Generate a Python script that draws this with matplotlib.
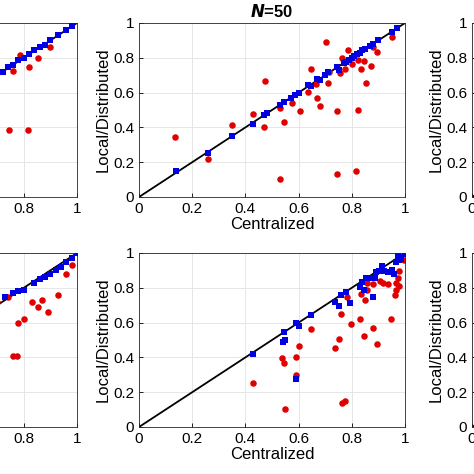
import numpy as np
import matplotlib
matplotlib.use("Agg")
import matplotlib.pyplot as plt

plt.rcParams['font.family'] = ['Liberation Sans', 'DejaVu Sans']

# top row, N=50
top_red_x = [.136, .258, .35, .43, .469, .475, .53, .53, .545, .575, .605, .634, .647, .664, .671, .68,
             .702, .712, .714, .745, .745, .755, .765, .774, .786, .799, .814, .825, .825, .836, .854,
             .844, .873, .896, .879, .95]
top_red_y = [.347, .219, .416, .475, .40, .666, .513, .105, .431, .538, .494, .605, .733, .649, .567, .521,
             .891, .653, .719, .496, .132, .71, .796, .733, .844, .767, .147, .5, .79, .735, .656,
             .779, .754, .836, .863, .92]
top_blue_x = [.14, .26, .35, .43, .47, .48, .53, .545, .57, .585, .60, .635, .645, .67, .68, .70, .71,
              .745, .75, .77, .78, .79, .80, .81, .82, .83, .84, .85, .87, .88, .90, .95, .97]
top_blue_y = [.15, .25, .35, .42, .47, .48, .53, .545, .57, .585, .60, .645, .64, .68, .67, .70, .72,
              .745, .73, .77, .775, .79, .80, .81, .82, .83, .845, .85, .87, .88, .90, .95, .97]

# bottom row
bot_red_x = [.43, .538, .544, .549, .589, .592, .60, .648, .735, .753, .761, .762, .775, .781, .796,
             .829, .834, .847, .85, .857, .857, .881, .893, .881, .906, .916, .935, .946, .961, .966,
             .967, .972, .979, .976, .997]
bot_red_y = [.254, .399, .368, .103, .296, .405, .464, .561, .452, .508, .651, .137, .147, .748, .59,
             .618, .763, .523, .729, .828, .786, .569, .479, .824, .84, .83, .82, .622, .761, .786,
             .826, .859, .813, .895, .958]
bot_blue_x = [.43, .541, .547, .545, .589, .592, .60, .648, .735, .753, .761, .777, .795, .829, .838,
              .847, .855, .867, .881, .888, .891, .903, .912, .922, .935, .95, .96, .966, .972, .979,
              .985, 1.0]
bot_blue_y = [.42, .487, .50, .548, .273, .599, .58, .645, .718, .697, .758, .777, .71, .805, .836,
              .786, .859, .859, .748, .857, .893, .897, .924, .897, .893, .905, .882, .947, .981, .958,
              .966, .992]

# left column, only the right edge is visible
lt_red_x = [.745, .814, .82, .76, .785, .853, .90]
lt_red_y = [.385, .385, .747, .724, .816, .80, .86]
lt_blue_x = [.70, .72, .74, .76, .78, .80, .82, .84, .86, .88, .90, .93, .96, .98]
lt_blue_y = [.70, .72, .745, .76, .785, .80, .82, .845, .86, .875, .90, .93, .96, .985]
lb_red_x = [.70, .74, .76, .775, .78, .80, .83, .853, .87, .89, .93, .96, .98]
lb_red_y = [.72, .75, .41, .41, .60, .62, .72, .69, .73, .66, .76, .88, .93]
lb_blue_x = [.70, .73, .76, .78, .80, .84, .86, .88, .90, .92, .94, .96, .98, 1.0]
lb_blue_y = [.72, .75, .77, .78, .79, .83, .85, .86, .88, .90, .92, .95, .97, 1.0]

W = 474.0
fig = plt.figure(figsize=(4.74, 4.74), dpi=100)


def panel(left_px, top_px, rx, ry, bx, by, title=None, xlabel=True):
    ax = fig.add_axes([left_px / W, 1 - (top_px + 174) / W, 266 / W, 174 / W])
    ax.plot([0, 1], [0, 1], color='black', lw=1.3, zorder=1)
    ax.scatter(rx, ry, s=22, color='#e00000', marker='o', zorder=2, linewidths=0)
    ax.scatter(bx, by, s=16, color='#0000e0', marker='s', zorder=3, linewidths=0)
    ax.set_xlim(0, 1)
    ax.set_ylim(0, 1)
    ax.set_xticks([0, .2, .4, .6, .8, 1])
    ax.set_yticks([0, .2, .4, .6, .8, 1])
    ax.set_xticklabels(['0', '0.2', '0.4', '0.6', '0.8', '1'])
    ax.set_yticklabels(['0', '0.2', '0.4', '0.6', '0.8', '1'])
    ax.tick_params(labelsize=11, direction='in', length=3, width=0.6)
    ax.grid(True, color='#e6e6e6', lw=0.7)
    ax.set_axisbelow(True)
    for s in ax.spines.values():
        s.set_linewidth(0.6)
        s.set_color('#262626')
    ax.set_ylabel('Local/Distributed', fontsize=12, labelpad=2)
    if xlabel:
        ax.set_xlabel('Centralized', fontsize=12, labelpad=1)
    if title:
        ax.set_title(title, fontsize=12, fontweight='bold', pad=4)
    return ax


panel(139, 23, top_red_x, top_red_y, top_blue_x, top_blue_y, title='$\\boldsymbol{N}$=50')
panel(139, 253, bot_red_x, bot_red_y, bot_blue_x, bot_blue_y)
panel(77 - 266, 23, lt_red_x, lt_red_y, lt_blue_x, lt_blue_y)
panel(77 - 266, 253, lb_red_x, lb_red_y, lb_blue_x, lb_blue_y)
panel(472, 23, [], [], [], [])
panel(472, 253, [], [], [], [])

fig.savefig('out.png', dpi=100)
